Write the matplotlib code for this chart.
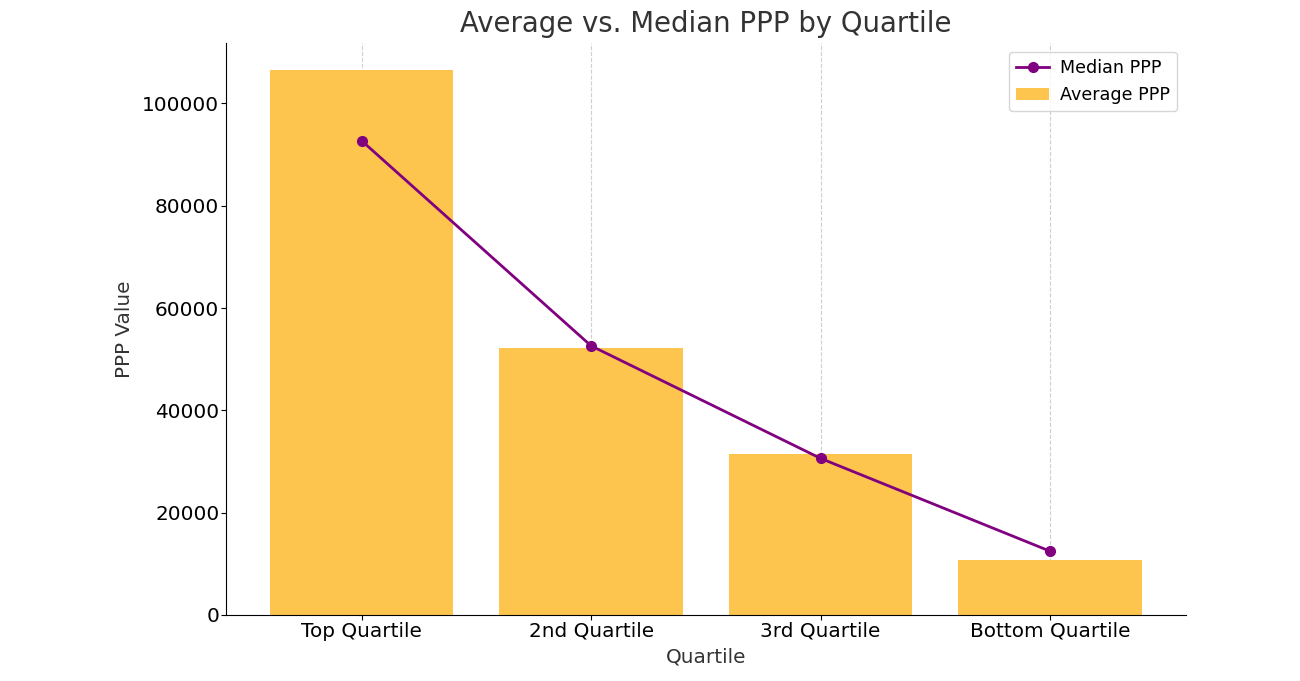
import matplotlib
matplotlib.use("Agg")
import matplotlib.pyplot as plt

quartiles = ["Top Quartile", "2nd Quartile", "3rd Quartile", "Bottom Quartile"]
average_ppp = [106500, 52100, 31500, 10760]
median_ppp = [92700, 52600, 30600, 12450]

fig = plt.figure(figsize=(13, 6.81), dpi=100)
ax = fig.add_axes([0.174, 0.097, 0.738, 0.84])

ax.bar(quartiles, average_ppp, color="#FDC54E", width=0.8, label="Average PPP", zorder=2)
ax.plot(quartiles, median_ppp, color="purple", marker="o", markersize=7, linewidth=2,
        label="Median PPP", zorder=3)

ax.grid(axis="x", linestyle="--", color="#cfcfcf", linewidth=0.8, zorder=0)
ax.set_axisbelow(True)
for s in ["top", "right"]:
    ax.spines[s].set_visible(False)

ax.set_title("Average vs. Median PPP by Quartile", fontsize=19.8, color="#333333", pad=7.5)
ax.set_xlabel("Quartile", fontsize=14.4, color="#333333", labelpad=5)
ax.set_ylabel("PPP Value", fontsize=14.4, color="#333333", labelpad=6)
ax.tick_params(axis="both", labelsize=14.4, pad=1.5)
ax.legend(fontsize=12.6, loc="upper right", borderpad=0.4, handlelength=1.9,
          handletextpad=0.6, labelspacing=0.55)

fig.savefig("out.png", dpi=100)
